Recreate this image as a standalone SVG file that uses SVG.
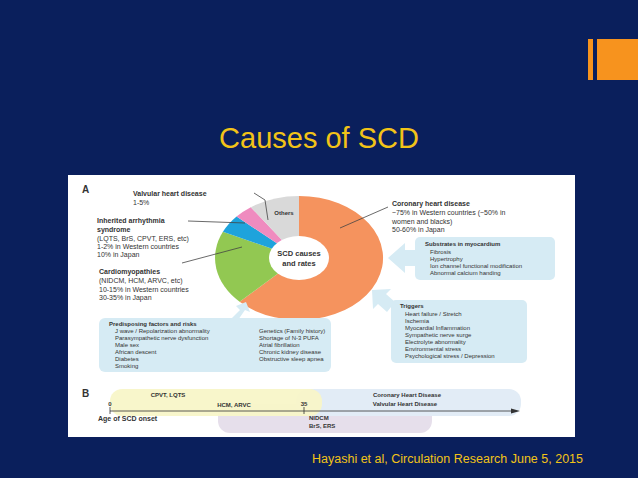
<svg xmlns="http://www.w3.org/2000/svg" width="638" height="478" viewBox="0 0 638 478">
<defs>
<style>
text{font-family:"Liberation Sans",sans-serif;fill:#333}
.b{font-weight:bold}
.s{font-size:7px}
.t{font-size:6px}
.box{fill:#d6ebf4}
.ld{stroke:#444;stroke-width:0.8;fill:none}
</style>
</defs>
<rect width="638" height="478" fill="#0a1f5c"/>
<rect x="588" y="39" width="5" height="41" fill="#f7931e"/>
<rect x="597" y="39" width="41" height="41" fill="#f7931e"/>
<text x="319" y="148" text-anchor="middle" style="font-size:29px;fill:#f2c318">Causes of SCD</text>
<rect x="68" y="175" width="507" height="262" fill="#fff"/>
<g id="pie">
<path d="M299,258 L299,196 A84,62 0 1 1 239.6,301.8 Z" fill="#f5935e"/>
<path d="M299,258 L239.6,301.8 A84,62 0 0 1 222.9,231.8 Z" fill="#92c852"/>
<path d="M299,258 L222.9,231.8 A84,62 0 0 1 236.6,216.5 Z" fill="#1ea3dc"/>
<path d="M299,258 L236.6,216.5 A84,62 0 0 1 250.8,207.2 Z" fill="#ef8bbf"/>
<path d="M299,258 L250.8,207.2 A84,62 0 0 1 299,196 Z" fill="#d9d9d9"/>
<ellipse cx="299" cy="258" rx="30" ry="22" fill="#fff"/>
<text x="299" y="256" text-anchor="middle" class="b" style="font-size:7.5px">SCD causes</text>
<text x="299" y="266" text-anchor="middle" class="b" style="font-size:7.5px">and rates</text>
<text x="284" y="215" text-anchor="middle" class="b t">Others</text>
</g>
<g id="arrows" class="box">
<polygon points="415,250 405,250 405,243 388,258 405,273 405,266 415,266"/>
<polygon points="395,302 386,294 391,289 372,290 373,309 378,304 387,312"/>
<polygon points="232,318 240,310 236,306 246,302 250,312 245,310 238,320"/>
</g>
<g id="labels">
<text x="82" y="193" class="b" style="font-size:10px">A</text>
<text x="133" y="196" class="b s">Valvular heart disease</text>
<text x="133" y="205" class="s">1-5%</text>
<text x="97" y="223" class="b s">Inherited arrhythmia</text>
<text x="97" y="232" class="b s">syndrome</text>
<text x="97" y="241" class="s">(LQTS, BrS, CPVT, ERS, etc)</text>
<text x="97" y="249" class="s">1-2% in Western countries</text>
<text x="97" y="257" class="s">10% in Japan</text>
<text x="99" y="274" class="b s">Cardiomyopathies</text>
<text x="99" y="283" class="s">(NIDCM, HCM, ARVC, etc)</text>
<text x="99" y="292" class="s">10-15% in Western countries</text>
<text x="99" y="300" class="s">30-35% in Japan</text>
<text x="392" y="206" class="b s">Coronary heart disease</text>
<text x="392" y="215" class="s">~75% in Western countries (~50% in</text>
<text x="392" y="224" class="s">women and blacks)</text>
<text x="392" y="232" class="s">50-60% in Japan</text>
<path class="ld" d="M254,193 L265,200 L268,220 M188,221 L245,223 M182,263 L242,247 M388,207 L340,228"/>
</g>
<g id="substrates">
<rect x="415" y="237" width="140" height="43" rx="5" class="box"/>
<text x="425" y="246" class="b t">Substrates in myocardium</text>
<text x="430" y="254" class="t">Fibrosis</text>
<text x="430" y="261" class="t">Hypertrophy</text>
<text x="430" y="268" class="t">Ion channel functional modification</text>
<text x="430" y="275" class="t">Abnormal calcium handing</text>
</g>
<g id="triggers">
<rect x="391" y="300" width="136" height="63" rx="5" class="box"/>
<text x="400" y="308" class="b t">Triggers</text>
<text x="405" y="316" class="t">Heart failure / Stretch</text>
<text x="405" y="323" class="t">Ischemia</text>
<text x="405" y="330" class="t">Myocardial Inflammation</text>
<text x="405" y="337" class="t">Sympathetic nerve surge</text>
<text x="405" y="344" class="t">Electrolyte abnormality</text>
<text x="405" y="351" class="t">Environmental stress</text>
<text x="405" y="358" class="t">Psychological stress / Depression</text>
</g>
<g id="predisposing">
<rect x="99" y="318" width="232" height="54" rx="6" class="box"/>
<text x="109" y="326" class="b t">Predisposing factors and risks</text>
<text x="115" y="333" class="t">J wave / Repolarization abnormality</text>
<text x="115" y="340" class="t">Parasympathetic nerve dysfunction</text>
<text x="115" y="347" class="t">Male sex</text>
<text x="115" y="354" class="t">African descent</text>
<text x="115" y="361" class="t">Diabetes</text>
<text x="115" y="368" class="t">Smoking</text>
<text x="259" y="333" class="t">Genetics (Family history)</text>
<text x="259" y="340" class="t">Shortage of N-3 PUFA</text>
<text x="259" y="347" class="t">Atrial fibrillation</text>
<text x="259" y="354" class="t">Chronic kidney disease</text>
<text x="259" y="361" class="t">Obstructive sleep apnea</text>
</g>
<g id="timeline">
<text x="82" y="397" class="b" style="font-size:10px">B</text>
<rect x="218" y="404" width="214" height="29" rx="12" fill="#e6dfeb"/>
<rect x="296" y="389" width="225" height="27" rx="12" fill="#e2ecf6"/>
<rect x="110" y="389" width="212" height="27" rx="12" fill="#f8f6c8" opacity="0.95"/>
<line x1="110" y1="411" x2="512" y2="411" stroke="#333" stroke-width="0.8"/>
<polygon points="520,411 511,408.5 511,413.5" fill="#333"/>
<line x1="110" y1="407" x2="110" y2="414" stroke="#333" stroke-width="0.8"/>
<line x1="304" y1="407" x2="304" y2="414" stroke="#333" stroke-width="0.8"/>
<text x="110" y="406" text-anchor="middle" class="b t">0</text>
<text x="304" y="406" text-anchor="middle" class="b t">35</text>
<text x="168" y="397" text-anchor="middle" class="b t">CPVT, LQTS</text>
<text x="234" y="407" text-anchor="middle" class="b t">HCM, ARVC</text>
<text x="407" y="397" text-anchor="middle" class="b t">Coronary  Heart  Disease</text>
<text x="405" y="406" text-anchor="middle" class="b t">Valvular Heart Disease</text>
<text x="309" y="420" class="b t">NIDCM</text>
<text x="309" y="428" class="b t">BrS, ERS</text>
<text x="98" y="421" class="b s">Age of SCD onset</text>
</g>
<text x="583" y="463" text-anchor="end" style="font-size:12.5px;fill:#f2c318">Hayashi et al, Circulation Research June 5, 2015</text>
</svg>
